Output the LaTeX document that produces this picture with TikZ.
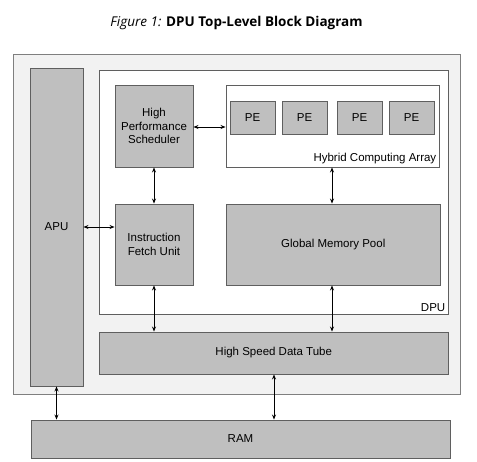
\documentclass[tikz,border=0pt]{standalone}
\usepackage{fontspec}
\setmainfont{Liberation Sans}
\newfontfamily\titlefont{Open Sans}
\usetikzlibrary{arrows.meta}
\definecolor{boxfill}{HTML}{BFBFBF}
\definecolor{boxline}{HTML}{5F5F5F}
\definecolor{outerfill}{HTML}{F2F2F2}
\definecolor{outerline}{HTML}{7F7F7F}
\begin{document}
\begin{tikzpicture}[x=1pt,y=-1pt,
  blk/.style={draw=boxline, fill=boxfill, line width=0.9pt, inner sep=0pt, align=center, font=\fontsize{11.5}{13.5}\selectfont, text=black},
  wbox/.style={draw=boxline, fill=white, line width=0.9pt, inner sep=0pt},
  obox/.style={draw=outerline, fill=outerfill, line width=0.9pt, inner sep=0pt},
  lbl/.style={font=\fontsize{11.5}{13.5}\selectfont, text=black, inner sep=0pt},
  bi/.style={line width=0.8pt, {Stealth[length=5pt,width=4pt]}-{Stealth[length=5pt,width=4pt]}}
]
\useasboundingbox (0,0) rectangle (477,462);
\node[font=\titlefont\fontsize{13.5}{15}\selectfont] (title) at (236.5,23) {\textit{Figure 1:} \textbf{DPU Top-Level Block Diagram}};
\node[obox, minimum width=446.5pt, minimum height=340pt] (outer) at (236.75,224) {};
\node[blk, minimum width=53pt, minimum height=318pt] (apu) at (56.5,227) {APU};
\node[wbox, minimum width=348.5pt, minimum height=244pt] (dpu) at (273.75,192) {};
\node[lbl, anchor=south east] (dpulbl) at ([shift={(-3,-3)}]dpu.south east) {DPU};
\node[blk, minimum width=78pt, minimum height=82pt] (hps) at (154,126) {High\\Performance\\Scheduler};
\node[wbox, minimum width=213pt, minimum height=82pt] (hca) at (332.5,126) {};
\node[lbl, anchor=south east] (hcalbl) at ([shift={(-3,-3)}]hca.south east) {Hybrid Computing Array};
\node[blk, minimum width=45pt, minimum height=33pt] (pe1) at (252.5,117.5) {PE};
\node[blk, minimum width=45pt, minimum height=33pt] (pe2) at (304.5,117.5) {PE};
\node[blk, minimum width=45pt, minimum height=33pt] (pe3) at (359.5,117.5) {PE};
\node[blk, minimum width=45pt, minimum height=33pt] (pe4) at (411.5,117.5) {PE};
\node[blk, minimum width=78pt, minimum height=81pt] (ifu) at (154,244.5) {Instruction\\Fetch Unit};
\node[blk, minimum width=214.5pt, minimum height=81pt] (gmp) at (333.25,244.5) {Global Memory Pool};
\node[blk, minimum width=348.5pt, minimum height=42pt] (hsdt) at (273.75,353) {High Speed Data Tube};
\node[blk, minimum width=419pt, minimum height=38pt] (ram) at (240.5,439) {RAM};
\draw[bi] (hps.east |- 0,127) -- (hca.west |- 0,127);
\draw[bi] (apu.east) -- (apu.east -| ifu.west);
\draw[bi] (hps.south) -- (ifu.north);
\draw[bi] (hca.south -| 332,0) -- (gmp.north -| 332,0);
\draw[bi] (ifu.south) -- (ifu.south |- hsdt.north);
\draw[bi] (gmp.south -| 332,0) -- (hsdt.north -| 332,0);
\draw[bi] (hsdt.south -| 274,0) -- (ram.north -| 274,0);
\draw[bi] (apu.south) -- (apu.south |- ram.north);
\end{tikzpicture}
\end{document}
